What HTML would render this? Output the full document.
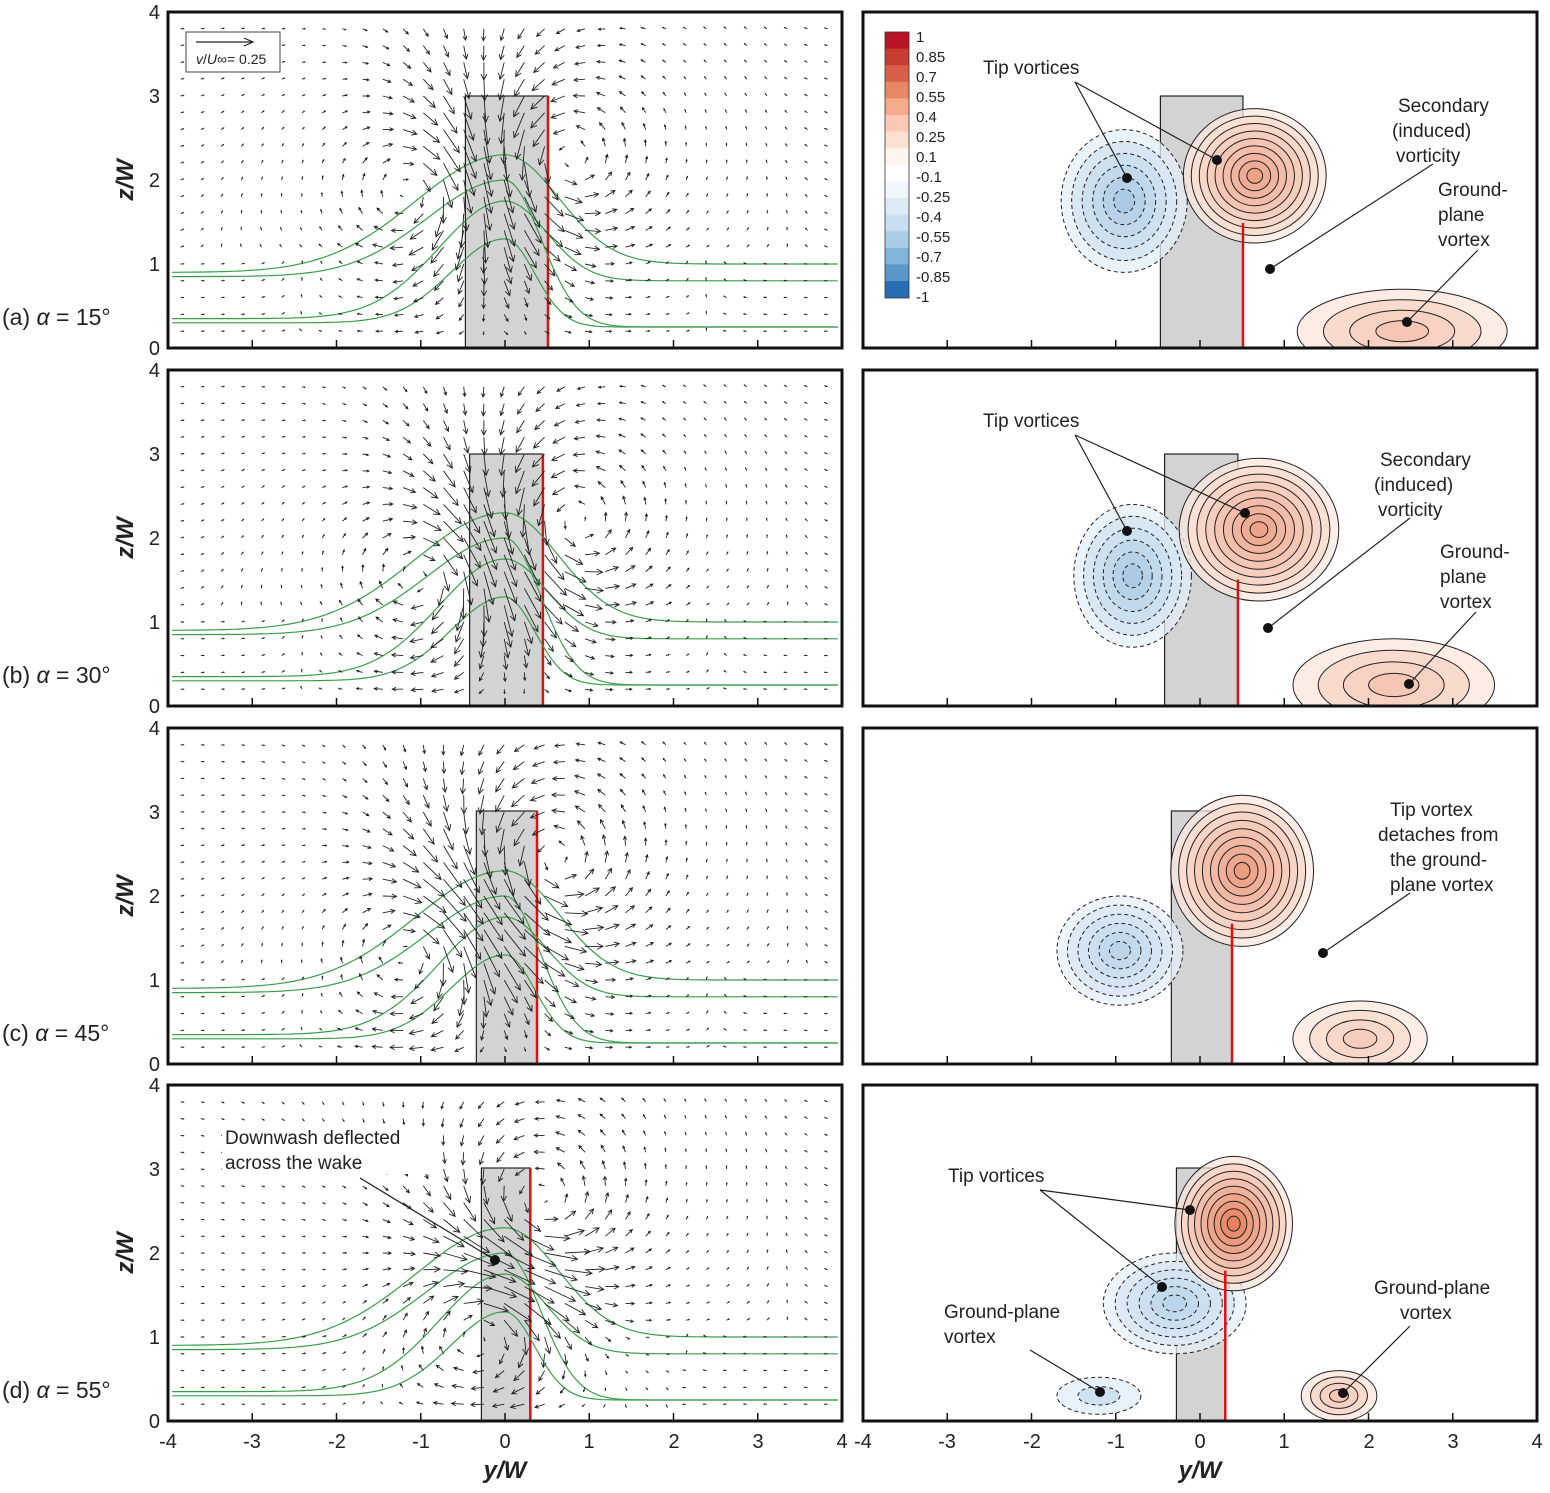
<!DOCTYPE html>
<html><head><meta charset="utf-8">
<style>
body{margin:0;background:#fff;}
svg{display:block;font-family:"Liberation Sans",Arial,sans-serif;}
.t{font-size:19px;fill:#222}
.tk{font-size:20px;fill:#222}
.ax{font-size:24px;font-weight:bold;font-style:italic;fill:#222}
.rl{font-size:23px;fill:#222}
</style></head>
<body>
<svg id="s" width="1550" height="1493" viewBox="0 0 1550 1493" xmlns="http://www.w3.org/2000/svg">
<rect width="1550" height="1493" fill="#fff"/>
<g id="content"></g>
<g id="txt">
<g class="tk" text-anchor="end">
<text x="160" y="19">4</text><text x="160" y="103">3</text><text x="160" y="187">2</text><text x="160" y="271">1</text><text x="160" y="355">0</text>
<text x="160" y="377">4</text><text x="160" y="461">3</text><text x="160" y="545">2</text><text x="160" y="629">1</text><text x="160" y="713">0</text>
<text x="160" y="735">4</text><text x="160" y="819">3</text><text x="160" y="903">2</text><text x="160" y="987">1</text><text x="160" y="1071">0</text>
<text x="160" y="1092">4</text><text x="160" y="1176">3</text><text x="160" y="1260">2</text><text x="160" y="1344">1</text><text x="160" y="1428">0</text>
</g>
<g class="ax" text-anchor="middle">
<text transform="translate(133,180) rotate(-90)">z/W</text>
<text transform="translate(133,538) rotate(-90)">z/W</text>
<text transform="translate(133,896) rotate(-90)">z/W</text>
<text transform="translate(133,1253) rotate(-90)">z/W</text>
<text x="505" y="1478">y/W</text><text x="1200" y="1478">y/W</text>
</g>
<g class="rl">
<text x="2" y="325">(a) <tspan font-style="italic">α</tspan> = 15°</text>
<text x="2" y="683">(b) <tspan font-style="italic">α</tspan> = 30°</text>
<text x="2" y="1041">(c) <tspan font-style="italic">α</tspan> = 45°</text>
<text x="2" y="1398">(d) <tspan font-style="italic">α</tspan> = 55°</text>
</g>
<g class="tk" text-anchor="middle">
<text x="168" y="1448">-4</text><text x="252" y="1448">-3</text><text x="337" y="1448">-2</text><text x="421" y="1448">-1</text><text x="505" y="1448">0</text><text x="589" y="1448">1</text><text x="674" y="1448">2</text><text x="758" y="1448">3</text><text x="842" y="1448">4</text>
<text x="863" y="1448">-4</text><text x="947" y="1448">-3</text><text x="1032" y="1448">-2</text><text x="1116" y="1448">-1</text><text x="1200" y="1448">0</text><text x="1284" y="1448">1</text><text x="1369" y="1448">2</text><text x="1453" y="1448">3</text><text x="1537" y="1448">4</text>
</g>
<rect x="186" y="32" width="94" height="40" fill="#fff" stroke="#444" stroke-width="1"/>
<line x1="196" y1="42" x2="252" y2="42" stroke="#222" stroke-width="1.2"/>
<path d="M244,38 L253,42 L244,46" fill="none" stroke="#222" stroke-width="1.2"/>
<text x="196" y="64" font-size="14" fill="#222"><tspan font-style="italic">v</tspan>/<tspan font-style="italic">U</tspan>∞= 0.25</text>
<g class="t">
<text x="983" y="74">Tip vortices</text>
<text x="1398" y="112">Secondary</text><text x="1392" y="137">(induced)</text><text x="1396" y="162">vorticity</text>
<text x="1438" y="196">Ground-</text><text x="1438" y="221">plane</text><text x="1438" y="246">vortex</text>
<text x="983" y="427">Tip vortices</text>
<text x="1380" y="466">Secondary</text><text x="1374" y="491">(induced)</text><text x="1378" y="516">vorticity</text>
<text x="1440" y="558">Ground-</text><text x="1440" y="583">plane</text><text x="1440" y="608">vortex</text>
<text x="1390" y="816">Tip vortex</text><text x="1378" y="841">detaches from</text><text x="1390" y="866">the ground-</text><text x="1390" y="891">plane vortex</text>
<text x="948" y="1182">Tip vortices</text>
<text x="944" y="1318">Ground-plane</text><text x="944" y="1343">vortex</text>
<text x="1374" y="1294">Ground-plane</text><text x="1400" y="1319">vortex</text>
</g>
<g stroke="#222" stroke-width="1.2" fill="none">
<path d="M1075,82 L1127,178 M1075,82 L1217,160"/>
<path d="M1433,164 L1270,269"/>
<path d="M1478,250 L1407,322"/>
<path d="M1075,435 L1127,531 M1075,435 L1245,513"/>
<path d="M1410,518 L1268,628"/>
<path d="M1476,612 L1409,684"/>
<path d="M1410,893 L1323,953"/>
<path d="M1040,1190 L1190,1210 M1040,1190 L1162,1287"/>
<path d="M1030,1350 L1100,1392"/>
<path d="M1410,1326 L1343,1393"/>
<path d="M360,1178 L495,1260"/>
</g>
<g fill="#111">
<circle cx="1127" cy="178" r="5"/><circle cx="1217" cy="160" r="5"/><circle cx="1270" cy="269" r="5"/><circle cx="1407" cy="322" r="5"/>
<circle cx="1127" cy="531" r="5"/><circle cx="1245" cy="513" r="5"/><circle cx="1268" cy="628" r="5"/><circle cx="1409" cy="684" r="5"/>
<circle cx="1323" cy="953" r="5"/>
<circle cx="1190" cy="1210" r="5"/><circle cx="1162" cy="1287" r="5"/><circle cx="1100" cy="1392" r="5"/><circle cx="1343" cy="1393" r="5"/>
<circle cx="495" cy="1260" r="5"/>
</g>
</g>
<g id="ann2"><rect x="222" y="1128" width="210" height="46" fill="#fff"/>
<text class="t" x="225" y="1144">Downwash deflected</text><text class="t" x="225" y="1169">across the wake</text></g>
</svg>
<script>
(function(){
var g=document.getElementById("content"),h="";
var tops=[12,370,728,1085],btop=[96,454,811,1168];
var rows=[
{b0:-0.47,b1:0.51,pos:[0.65,2.05,0.85,0.8,0.55],neg:[-0.9,1.75,0.75,0.85,0.45],gr:[2.4,0.2,1.25,0.5,0.3],va:[-0.9,1.9],vb:[0.5,2.2]},
{b0:-0.42,b1:0.45,pos:[0.7,2.1,0.95,0.85,0.55],neg:[-0.8,1.55,0.7,0.85,0.45],gr:[2.3,0.25,1.2,0.55,0.3],va:[-0.8,1.6],vb:[0.6,2.1]},
{b0:-0.34,b1:0.38,pos:[0.5,2.3,0.85,0.9,0.6],neg:[-0.95,1.35,0.75,0.65,0.35],gr:[1.9,0.3,0.8,0.45,0.25],va:[-1.0,1.4],vb:[0.4,2.3]},
{b0:-0.28,b1:0.3,pos:[0.4,2.35,0.7,0.8,0.8],neg:[-0.3,1.4,0.85,0.6,0.35],gr:[1.65,0.3,0.45,0.3,0.3],va:[-0.2,1.3],vb:[0.3,2.35]}];
function LX(y){return 168+(y+4)*84.25;}
function RX(y){return 863+(y+4)*84.25;}
function lerp(a,b,t){return Math.round(a+(b-a)*t);}
var defs='<defs>';
tops.forEach(function(t,i){defs+='<clipPath id="cr'+i+'"><rect x="863" y="'+t+'" width="674" height="336"/></clipPath><clipPath id="cl'+i+'"><rect x="168" y="'+t+'" width="674" height="336"/></clipPath>';});
h+=defs+'</defs>';
rows.forEach(function(R,i){
 var top=tops[i],base=top+336,bt=btop[i];
 function PY(z){return base-z*84;}
 h+='<g clip-path="url(#cr'+i+')">';
 h+='<rect x="'+RX(R.b0)+'" y="'+bt+'" width="'+(RX(R.b1)-RX(R.b0))+'" height="'+(base-bt)+'" fill="#d3d3d3" stroke="#222" stroke-width="1.2"/>';
 function blob(c,lev,pos,dash){
  for(var k=0;k<lev;k++){
   var f=1-k/lev,t=(k+1)/lev*c[4];
   var col=pos?"rgb("+lerp(253,225,t)+","+lerp(240,100,t)+","+lerp(232,60,t)+")":"rgb("+lerp(238,90,t)+","+lerp(245,150,t)+","+lerp(252,200,t)+")";
   var cx=RX(c[0]),cy=PY(c[1]),rx=c[2]*f*84,ry=c[3]*f*84;
   h+='<ellipse cx="'+cx+'" cy="'+cy+'" rx="'+rx.toFixed(1)+'" ry="'+ry.toFixed(1)+'" fill="'+col+'" fill-opacity="'+(k==0?0.75:1)+'" stroke="#222" stroke-width="1"'+(dash?' stroke-dasharray="4,3"':'')+'/>';
  }
 }
 blob(R.neg,6,false,true);
 if(i==3){blob([-1.2,0.3,0.5,0.22,0.2],2,false,true);}
 blob(R.gr,4,true,false);
 blob(R.pos,9,true,false);
 h+='<line x1="'+RX(R.b1)+'" y1="'+PY(R.pos[1]-R.pos[3]*0.7)+'" x2="'+RX(R.b1)+'" y2="'+base+'" stroke="#d11" stroke-width="2.5"/>';
 h+='</g>';
 h+='<g clip-path="url(#cl'+i+')">';
 h+='<rect x="'+LX(R.b0)+'" y="'+bt+'" width="'+(LX(R.b1)-LX(R.b0))+'" height="'+(base-bt)+'" fill="#d3d3d3" stroke="#222" stroke-width="1.2"/>';
 h+='<line x1="'+LX(R.b1)+'" y1="'+bt+'" x2="'+LX(R.b1)+'" y2="'+base+'" stroke="#d11" stroke-width="2.5"/>';
 var lv=[[0.3,0.25,1.3,0.9,0.5],[0.35,0.8,1.75,1.1,0.7],[0.85,0.25,2.0,1.3,0.6],[0.9,1.0,2.3,1.5,0.9]];
 lv.forEach(function(L){
  var d="";
  for(var y=-3.95;y<=3.95;y+=0.05){
   var zl=L[0],zr=L[1],pk=L[2],wl=L[3],wr=L[4];
   var z=y<0?zl+(pk-zl)*Math.exp(-Math.pow(y/wl,2)):zr+(pk-zr)*Math.exp(-Math.pow(y/wr,2));
   d+=(d?"L":"M")+LX(y).toFixed(1)+","+PY(z).toFixed(1);
  }
  h+='<path d="'+d+'" fill="none" stroke="#3a9d4a" stroke-width="1.2"/>';
 });
 function vel(y,z){
  var u=0,w=0;
  [[R.va,1],[R.vb,-1]].forEach(function(v){
   [[v[0][1],1],[-v[0][1],-1]].forEach(function(im){
    var dy=y-v[0][0],dz=z-im[0],r2=dy*dy+dz*dz+0.6,s=v[1]*im[1];
    u+=s*dz/r2; w+=-s*dy/r2;
   });
  });
  var fall=Math.exp(-Math.pow(y/2.2,2));
  return [(u*fall-0.12*Math.sign(y)*(z<1.2?0.6:0.1))*0.3,w*fall*0.3];
 }
 for(var z=0.2;z<3.95;z+=0.2){
  for(var y=-3.85;y<3.9;y+=0.24){
   var v=vel(y,z),px=LX(y),py=PY(z);
   var dx=v[0]*84*1.6,dy=-v[1]*84*1.6,L=Math.sqrt(dx*dx+dy*dy);
   if(L>34){dx*=34/L;dy*=34/L;L=34;}
   if(L<3){dx=dx/(L+1e-6)*3;dy=dy/(L+1e-6)*3;L=3;}
   var ex=px+dx,ey=py+dy,ux=dx/L,uy=dy/L,hs=Math.min(6,L*0.35);
   h+='<path d="M'+px.toFixed(1)+','+py.toFixed(1)+'L'+ex.toFixed(1)+','+ey.toFixed(1)+'M'+(ex-hs*ux-hs*0.5*uy).toFixed(1)+','+(ey-hs*uy+hs*0.5*ux).toFixed(1)+'L'+ex.toFixed(1)+','+ey.toFixed(1)+'L'+(ex-hs*ux+hs*0.5*uy).toFixed(1)+','+(ey-hs*uy-hs*0.5*ux).toFixed(1)+'" stroke="#222" stroke-width="0.9" fill="none"/>';
  }
 }
 h+='</g>';
 h+='<rect x="168" y="'+top+'" width="674" height="336" fill="none" stroke="#111" stroke-width="3"/>';
 h+='<rect x="863" y="'+top+'" width="674" height="336" fill="none" stroke="#111" stroke-width="3"/>';
 for(var t=-4;t<=4;t++){h+='<line x1="'+LX(t)+'" y1="'+base+'" x2="'+LX(t)+'" y2="'+(base-8)+'" stroke="#111" stroke-width="1.5"/><line x1="'+RX(t)+'" y1="'+base+'" x2="'+RX(t)+'" y2="'+(base-8)+'" stroke="#111" stroke-width="1.5"/>';}
});
var cb=[[185,20,38],[200,60,50],[215,95,70],[232,135,100],[244,170,140],[250,200,180],[253,225,210],[255,245,238],[255,255,255],[240,246,252],[222,235,247],[200,222,240],[170,205,230],[130,180,215],[90,150,200],[40,110,180]];
var lb=["1","0.85","0.7","0.55","0.4","0.25","0.1","-0.1","-0.25","-0.4","-0.55","-0.7","-0.85","-1"];
for(var k=0;k<16;k++){h+='<rect x="885" y="'+(32+k*16.6)+'" width="24" height="17" fill="rgb('+cb[k]+')"/>';}
h+='<rect x="885" y="32" width="24" height="266" fill="none" stroke="#333" stroke-width="0.8"/>';
lb.forEach(function(s,k){h+='<text x="916" y="'+(42+k*20)+'" font-size="15" fill="#222">'+s+'</text>';});
g.innerHTML=h;
})();
</script>
</body></html>
